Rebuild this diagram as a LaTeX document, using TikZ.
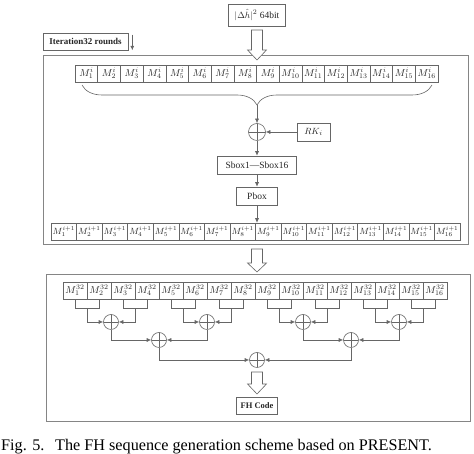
\documentclass[tikz,border=0pt]{standalone}
\usepackage{fontspec}
\setmainfont{Liberation Serif}
\usetikzlibrary{arrows.meta,decorations.pathreplacing}

\definecolor{linegray}{gray}{0.4}
\newcommand\hollowarr[3]{\draw[hollow] (#1) ++(-5.5,0) -- ++(0,-#2) -- ++(-4,0) -- ++(9.5,-#3) -- ++(9.5,#3) -- ++(-4,0) -- ++(0,#2) -- cycle;}

\tikzset{
	box/.style={draw=linegray, line width=0.6pt, inner sep=1pt, text=black!85, font=\fontsize{9.5}{10}\selectfont},
	cell/.style={draw=linegray, line width=0.5pt, minimum height=17pt, inner sep=0pt, text=black!85, font=\fontsize{10}{10}\selectfont},
	xor/.style={circle, draw=linegray, line width=0.6pt, minimum size=#1, inner sep=0pt,
			path picture={\draw[linegray, line width=0.6pt] (path picture bounding box.north) -- (path picture bounding box.south) (path picture bounding box.west) -- (path picture bounding box.east);}},
	xor/.default=15pt,
	flow/.style={draw=linegray, line width=0.6pt, -{Latex[length=4.5pt,width=4pt]}},
	link/.style={draw=linegray, line width=0.6pt},
	frame/.style={draw=linegray!80, line width=0.8pt},
	hollow/.style={draw=linegray, line width=0.6pt, fill=white},
}

\begin{document}
\begin{tikzpicture}[x=1pt, y=1pt]
			\path[use as bounding box] (0,0) rectangle (474,454);
			% input and round counter
			\node[box, minimum width=57pt, minimum height=22pt] (in) at (257,439) {$|\Delta\hat{h}|^2$ 64bit};
			\node[box, minimum width=85pt, minimum height=17pt, font=\fontsize{9}{10}\selectfont\bfseries] (iter) at (85.5,412.5) {Iteration32 rounds};
			\draw[flow] ([xshift=4pt,yshift=-2pt]iter.north east) -- ([xshift=4pt]iter.south east);
			% one round
			\draw[frame] (43,210) rectangle (468,399);
			\hollowarr{257,424}{20}{10}
			\foreach \i in {1,...,16}
				\node[cell, minimum width=22.69pt] (Mi\i) at ({75+22.69*(\i-0.5)},380.5) {$M^{i}_{\i}$};
			\draw[link, decorate, decoration={brace, mirror, amplitude=20pt}] (82,369) -- (432,369);
			\coordinate (tip) at (257,349);
			\node[xor=17pt] (x0) at (257,322) {};
			\node[box, minimum width=33pt, minimum height=18pt] (rk) at (313.5,322) {$RK_i$};
			\node[box, minimum width=79pt, minimum height=18pt] (sbox) at (257,289) {Sbox1---Sbox16};
			\node[box, minimum width=41pt, minimum height=18pt] (pbox) at (257,258) {Pbox};
			\foreach \i in {1,...,16}
				\node[cell, minimum width=25.56pt, font=\fontsize{9}{10}\selectfont] (Mn\i) at ({51+25.56*(\i-0.5)},222.5) {$M^{i+1}_{\i}$};
			\draw[flow] (tip) -- (x0);
			\draw[flow] (rk) -- (x0);
			\draw[flow] (x0) -- (sbox);
			\draw[flow] (sbox) -- (pbox);
			\draw[flow] (pbox) -- (pbox.south |- Mn9.north);
			% after 32 rounds
			\draw[frame] (46,33) rectangle (470,180);
			\hollowarr{257,205}{14}{9}
			\foreach \i in {1,...,16}
				\node[cell, minimum width=24pt] (Mf\i) at ({63+24*(\i-0.5)},163.5) {$M^{32}_{\i}$};
			\foreach \k [evaluate=\k as \a using int(2*\k-1), evaluate=\k as \b using int(2*\k)] in {1,...,8}
				\draw[link] (Mf\a.south) -- ++(0,-9) -- ++(12,0) coordinate (p\k) -- ++(12,0) -- (Mf\b.south);
			\foreach \k [evaluate=\k as \a using int(2*\k-1), evaluate=\k as \b using int(2*\k)] in {1,...,4} {
				\node[xor] (xa\k) at ({63+96*\k-48},132) {};
				\draw[flow] (p\a) |- (xa\k.west);
				\draw[flow] (p\b) |- (xa\k.east);
			}
			\node[xor] (xb1) at (159,114) {};
			\node[xor] (xb2) at (351,114) {};
			\node[xor] (xc) at (257,94) {};
			\draw[flow] (xa1) |- (xb1.west);
			\draw[flow] (xa2) |- (xb1.east);
			\draw[flow] (xa3) |- (xb2.west);
			\draw[flow] (xa4) |- (xb2.east);
			\draw[flow] (xb1) |- (xc.west);
			\draw[flow] (xb2) |- (xc.east);
			\hollowarr{257,82}{12}{10}
			\node[box, minimum width=41pt, minimum height=17pt, font=\fontsize{8.5}{9}\selectfont\bfseries] (fh) at (257,48.5) {FH Code};
			% caption
			\node[anchor=base west, inner sep=0pt, font=\fontsize{16.2}{18}\selectfont] (figno) at (1,3) {Fig. 5.};
			\node[anchor=base west, inner sep=0pt, font=\fontsize{16.2}{18}\selectfont] (cap) at (55,3) {The FH sequence generation scheme based on PRESENT.};
		\end{tikzpicture}
\end{document}
